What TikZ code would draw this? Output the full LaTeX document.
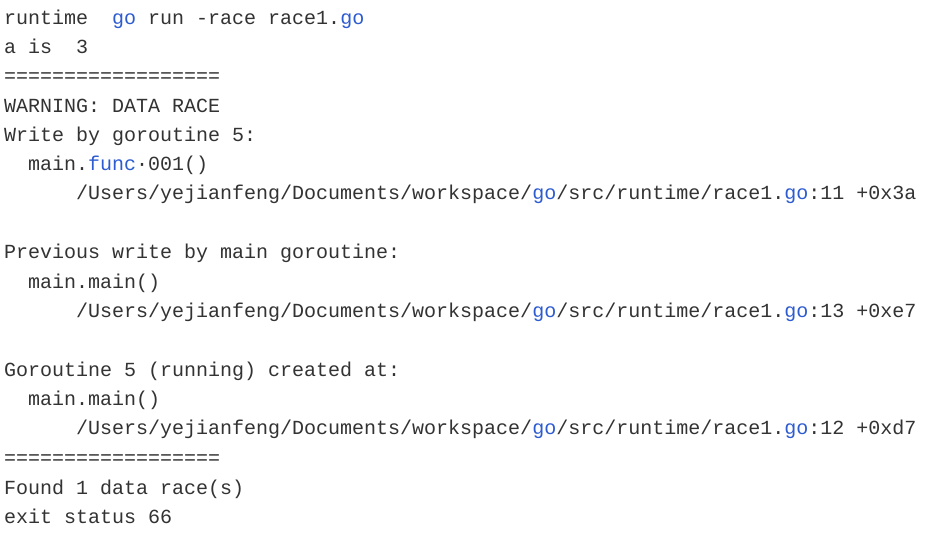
\documentclass[tikz,border=0pt]{standalone}
\usepackage{fontspec}
\newfontfamily\mono{Liberation Mono}
\definecolor{txt}{HTML}{333333}
\definecolor{gob}{HTML}{2D5BD0}
\newcommand{\G}{\textcolor{gob}{go}}
\begin{document}
\begin{tikzpicture}[x=1bp,y=-1bp,ln/.style={anchor=mid west,inner sep=0pt,text=txt,font=\mono\fontsize{20bp}{24bp}\selectfont}]
\useasboundingbox[fill=white] (0,0) rectangle (940,540);
\node[ln] (l1) at (4,22) {runtime\ \ \G\ run -race race1.\G};
\node[ln] (l2) at (4,51) {a is\ \ 3};
\node[ln] (l3) at (4,80) {==================};
\node[ln] (l4) at (4,110) {WARNING: DATA RACE};
\node[ln] (l5) at (4,139) {Write by goroutine 5:};
\node[ln] (l6) at (28,168) {main.\textcolor{gob}{func}·001()};
\node[ln] (l7) at (76,197) {/Users/yejianfeng/Documents/workspace/\G/src/runtime/race1.\G:11 +0x3a};
\node[ln] (l8) at (4,256) {Previous write by main goroutine:};
\node[ln] (l9) at (28,286) {main.main()};
\node[ln] (l10) at (76,315) {/Users/yejianfeng/Documents/workspace/\G/src/runtime/race1.\G:13 +0xe7};
\node[ln] (l11) at (4,374) {Goroutine 5 (running) created at:};
\node[ln] (l12) at (28,403) {main.main()};
\node[ln] (l13) at (76,432) {/Users/yejianfeng/Documents/workspace/\G/src/runtime/race1.\G:12 +0xd7};
\node[ln] (l14) at (4,462) {==================};
\node[ln] (l15) at (4,492) {Found 1 data race(s)};
\node[ln] (l16) at (4,521) {exit status 66};
\end{tikzpicture}
\end{document}
